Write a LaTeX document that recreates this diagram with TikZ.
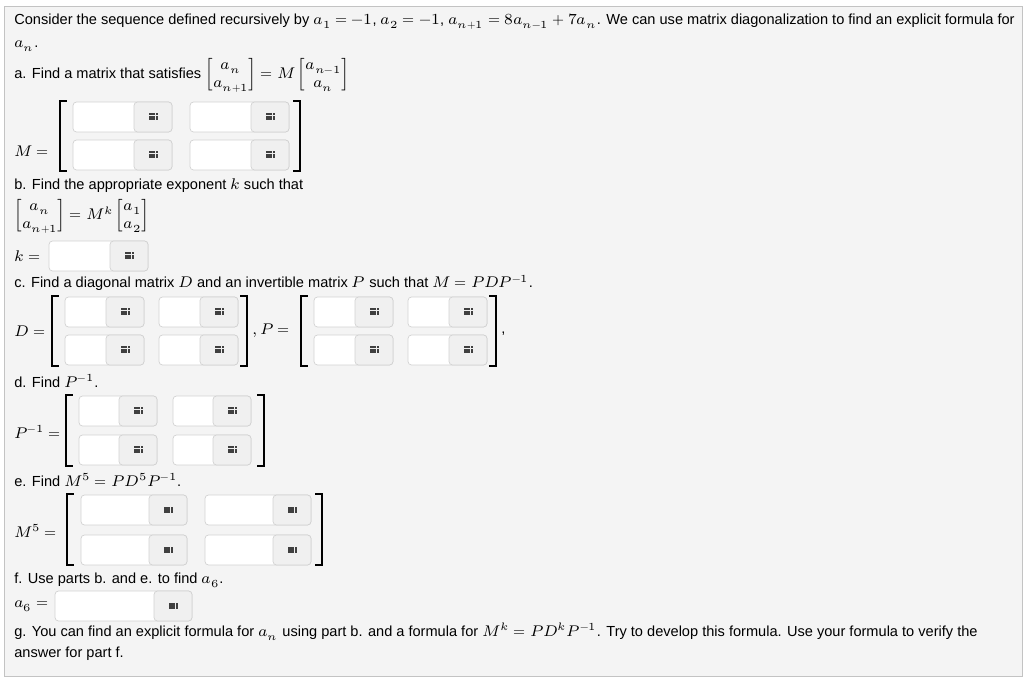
\documentclass[tikz,border=0pt]{standalone}
\usepackage{amsmath}
\usepackage{unicode-math}
\setmainfont{Liberation Sans}
\setmathfont{Latin Modern Math}[Scale=1.06]
\begin{document}
\begin{tikzpicture}[x=0.02cm, y=-0.02cm,
    txt/.style={anchor=west, inner sep=0pt, font=\fontsize{8.3}{10}\selectfont},
    field/.style={draw=gray!35, fill=white, rounded corners=2pt},
    button/.style={draw=gray!35, fill=gray!12, rounded corners=2pt},
    brk/.style={line width=1.1pt, line cap=rect},
  ]
\definecolor{pagebg}{RGB}{244,244,244}
% answer widget: name, left, top, width
\newcommand{\answer}[4]{%
  \draw[field] (#2,#3) rectangle ++(#4,30);
  \draw[button] (#2+#4-38,#3) rectangle ++(38,30);
  \node[inner sep=0pt, minimum size=0pt] (#1) at (#2+#4-19,#3+15) {};
  \foreach \i in {0,...,3}
    \foreach \j in {0,...,2}
      \fill[black!75] (#2+#4-23.5+\i*2.4,#3+11.5+\j*2.4) rectangle ++(2,2);
}
% matrix brackets: left, right, top, bottom
\newcommand{\brackets}[4]{%
  \draw[brk] (#1+6,#3) -- (#1,#3) -- (#1,#4) -- (#1+6,#4);
  \draw[brk] (#2-6,#3) -- (#2,#3) -- (#2,#4) -- (#2-6,#4);
}
\useasboundingbox (0,0) rectangle (1024,678);
\fill[white] (0,0) rectangle (1024,678);
\draw[pagebg!80!black, fill=pagebg] (4,6) rectangle (1022,676);

%intro
\node[txt] (intro) at (14,22) {Consider the sequence defined recursively by $a_1=-1$, $a_2=-1$, $a_{n+1}=8a_{n-1}+7a_n$. We can use matrix diagonalization to find an explicit formula for};
\node[txt] (intro2) at (14,46) {$a_n$.};

%part a
\node[txt] (parta) at (14,75) {a. Find a matrix that satisfies $\begin{bmatrix}a_n\\a_{n+1}\end{bmatrix}=M\begin{bmatrix}a_{n-1}\\a_n\end{bmatrix}$};
\node[txt] (Mlab) at (14,151) {$M=$};
\brackets{60}{300}{101}{171}
\answer{m11}{73}{102}{99}
\answer{m12}{190}{102}{99}
\answer{m21}{73}{140}{99}
\answer{m22}{190}{140}{99}

%part b
\node[txt] (partb) at (14,186) {b. Find the appropriate exponent $k$ such that};
\node[txt] (partb2) at (14,216) {$\begin{bmatrix}a_n\\a_{n+1}\end{bmatrix}=M^k\begin{bmatrix}a_1\\a_2\end{bmatrix}$};
\node[txt] (klab) at (14,256) {$k=$};
\answer{k}{49}{241}{99}

%part c
\node[txt] (partc) at (14,283) {c. Find a diagonal matrix $D$ and an invertible matrix $P$ such that $M=PDP^{-1}$.};
\node[txt] (Dlab) at (14,331) {$D=$};
\brackets{52}{247}{296}{366}
\answer{d11}{65}{297}{79}
\answer{d12}{159}{297}{79}
\answer{d21}{65}{335}{79}
\answer{d22}{159}{335}{79}
\node[txt] (Plab) at (252,331) {$,P=$};
\brackets{301}{496}{296}{366}
\answer{p11}{314}{297}{79}
\answer{p12}{408}{297}{79}
\answer{p21}{314}{335}{79}
\answer{p22}{408}{335}{79}
\node[txt] (comma) at (501,334) {,};

%part d
\node[txt] (partd) at (14,381) {d. Find $P^{-1}$.};
\node[txt] (Pilab) at (14,432) {$P^{-1}=$};
\brackets{66}{264}{395}{466}
\answer{q11}{79}{396}{78}
\answer{q12}{173}{396}{78}
\answer{q21}{79}{435}{78}
\answer{q22}{173}{435}{78}

%part e
\node[txt] (parte) at (14,480) {e. Find $M^5=PD^5P^{-1}$.};
\node[txt] (M5lab) at (14,531) {$M^5=$};
\brackets{67}{322}{494}{565}
\answer{r11}{81}{495}{106}
\answer{r12}{205}{495}{106}
\answer{r21}{81}{535}{106}
\answer{r22}{205}{535}{106}

%part f
\node[txt] (partf) at (14,580) {f. Use parts b. and e. to find $a_6$.};
\node[txt] (a6lab) at (14,606) {$a_6=$};
\answer{a6}{55}{591}{137}

%part g
\node[txt] (partg) at (14,632) {g. You can find an explicit formula for $a_n$ using part b. and a formula for $M^k=PD^kP^{-1}$. Try to develop this formula. Use your formula to verify the};
\node[txt] (partg2) at (14,654) {answer for part f.};
\end{tikzpicture}
\end{document}
